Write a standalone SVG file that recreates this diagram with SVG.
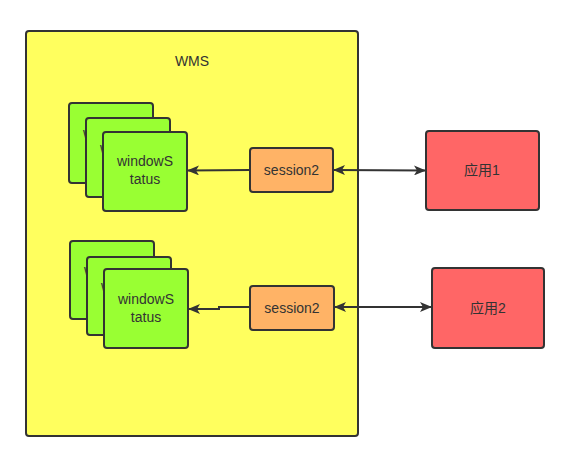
<svg xmlns="http://www.w3.org/2000/svg" width="568" height="460" viewBox="0 0 568 460">
<defs>
<style>
text{font-family:"Liberation Sans",Arial,"Noto Sans CJK SC",sans-serif;font-size:14px;fill:#333;text-anchor:middle;}
.box{stroke:#333;stroke-width:2;}
.wms{fill:#ffff5e;}
.win{fill:#99ff33;}
.ses{fill:#ffb366;}
.app{fill:#ff6666;}
.conn{fill:none;stroke:#333;stroke-width:2;}
</style>
<marker id="ah" viewBox="0 0 12 10" refX="11" refY="5" markerWidth="12" markerHeight="10" markerUnits="userSpaceOnUse" orient="auto-start-reverse">
<path d="M0,0 L12,5 L0,10 L3,5 Z" fill="#333"/>
</marker>
</defs>
<rect width="568" height="460" fill="#fff"/>
<g id="wms">
<rect class="box wms" x="26" y="31" width="332" height="405" rx="3"/>
<text x="192" y="66">WMS</text>
</g>
<g id="win1a">
<rect class="box win" x="69" y="103" width="84" height="80" rx="3"/>
<text x="111" y="138">windowS</text>
<text x="111" y="156">tatus</text>
</g>
<g id="win1b">
<rect class="box win" x="86" y="118" width="84" height="79" rx="3"/>
<text x="128" y="153">windowS</text>
<text x="128" y="171">tatus</text>
</g>
<g id="win1c">
<rect class="box win" x="103" y="132" width="84" height="79" rx="3"/>
<text x="145" y="166">windowS</text>
<text x="145" y="184">tatus</text>
</g>
<g id="win2a">
<rect class="box win" x="70" y="241" width="84" height="78" rx="3"/>
<text x="112" y="275">windowS</text>
<text x="112" y="293">tatus</text>
</g>
<g id="win2b">
<rect class="box win" x="87" y="257" width="84" height="78" rx="3"/>
<text x="129" y="291">windowS</text>
<text x="129" y="309">tatus</text>
</g>
<g id="win2c">
<rect class="box win" x="104" y="269" width="84" height="79" rx="3"/>
<text x="146" y="304">windowS</text>
<text x="146" y="322">tatus</text>
</g>
<g id="session1">
<rect class="box ses" x="250" y="148" width="83" height="44" rx="3"/>
<text x="291.5" y="175">session2</text>
</g>
<g id="session2">
<rect class="box ses" x="250" y="286" width="84" height="44" rx="3"/>
<text x="292" y="313">session2</text>
</g>
<g id="app1">
<rect class="box app" x="426" y="131" width="113" height="79" rx="3"/>
<text x="482" y="175">应用1</text>
</g>
<g id="app2">
<rect class="box app" x="432" y="268" width="112" height="80" rx="3"/>
<text x="488" y="313">应用2</text>
</g>
<g id="connectors">
<path class="conn" d="M250,170 L188,170.5" marker-end="url(#ah)"/>
<path class="conn" d="M250,307 L219,307 L219,309 L189,309" marker-end="url(#ah)"/>
<path class="conn" d="M334,170 L425,170.5" marker-start="url(#ah)" marker-end="url(#ah)"/>
<path class="conn" d="M335,307 L431,307" marker-start="url(#ah)" marker-end="url(#ah)"/>
</g>
</svg>
